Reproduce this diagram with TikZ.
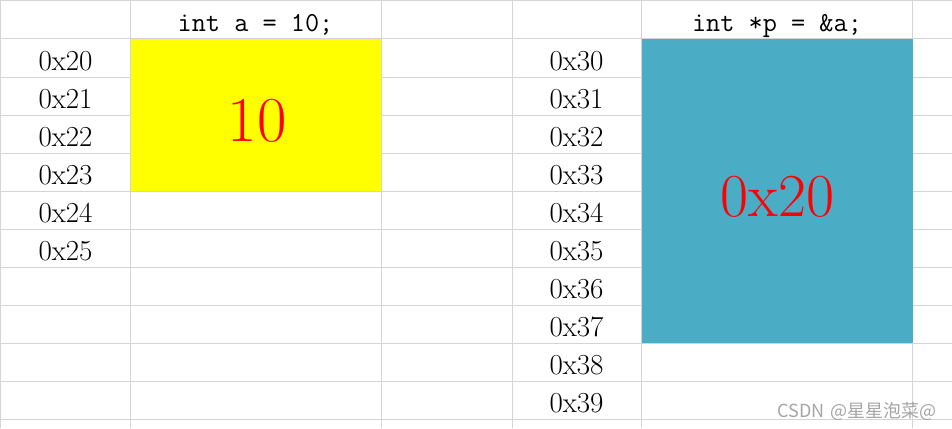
\documentclass[tikz,border=0pt]{standalone}
\usepackage{fontspec}
\newfontfamily\cjkfont{Noto Sans CJK SC}
\definecolor{gridc}{HTML}{D4D4D4}
\definecolor{cellyellow}{HTML}{FFFF00}
\definecolor{cellblue}{HTML}{4BACC6}
\definecolor{wmgray}{HTML}{A6A6A6}
\begin{document}
\begin{tikzpicture}[x=1pt,y=-1pt,
  gridline/.style={draw=gridc,line width=1pt},
  addr/.style={anchor=base,inner sep=0pt,font=\fontsize{29}{29}\selectfont},
  header/.style={anchor=base,inner sep=0pt,font=\fontsize{27.5}{28}\selectfont\ttfamily},
  bigval/.style={anchor=base,inner sep=0pt,text=red},
  wm/.style={anchor=base east,inner sep=0pt,text=wmgray,font=\fontsize{18}{18}\cjkfont}]
\useasboundingbox (0,0) rectangle (952,428);
\fill[white] (0,0) rectangle (952,428);
% grid
\foreach \yy in {1,39,77,115,153,191,229,267,305,343,381,419}
  \draw[gridline] (0,\yy) -- (952,\yy);
\foreach \xx in {0.5,130.5,381.5,512.5,641.5,912.5}
  \draw[gridline] (\xx,0) -- (\xx,428);
% filled cells
\fill[cellyellow] (130.5,39) rectangle (381,191);
\fill[cellblue] (641.5,39) rectangle (913,343);
% headers
\node[header] (ha) at (255.5,32) {int a = 10;};
\node[header] (hp) at (777,32) {int *p = \&a;};
% left addresses
\foreach \t [count=\i] in {0x20,0x21,0x22,0x23,0x24,0x25}
  \node[addr] (la\i) at (65.5,{39+38*(\i-1)+31.5}) {\t};
% right addresses
\foreach \t [count=\i] in {0x30,0x31,0x32,0x33,0x34,0x35,0x36,0x37,0x38,0x39}
  \node[addr] (ra\i) at (576.5,{39+38*(\i-1)+31.5}) {\t};
% values
\node[bigval,font=\fontsize{64}{64}\selectfont] (va) at (257,141.7) {10};
\node[bigval,font=\fontsize{61}{61}\selectfont] (vp) at (777.5,216.7) {0x20};
% watermark
\node[wm] (wmark) at (937,417) {CSDN\hspace{6pt}@星星泡菜@};
\end{tikzpicture}
\end{document}
